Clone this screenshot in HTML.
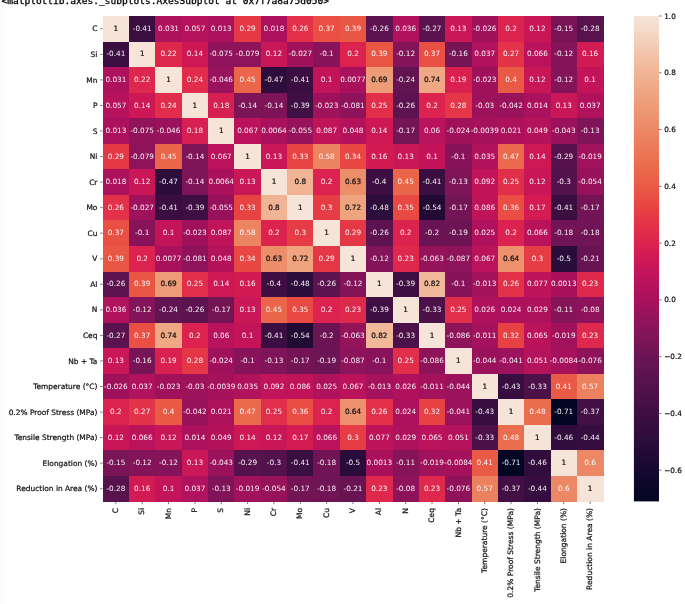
<!DOCTYPE html>
<html lang="en"><head><meta charset="utf-8"><title>Correlation heatmap</title>
<style>
html,body{margin:0;padding:0;background:#fff;}
body{width:685px;height:604px;overflow:hidden;position:relative;}
svg{position:absolute;left:0;top:0;display:block;filter:blur(0.4px);}
text{font-family:"DejaVu Sans","Liberation Sans",sans-serif;}
.a{font-size:7.3px;text-anchor:middle;}
.w{fill:#fff;fill-opacity:0.94;}.k{fill:#111;stroke:#111;stroke-width:0.22px;}
.yl{font-size:7.45px;text-anchor:end;fill:#111;stroke:#111;stroke-width:0.22px;}
.xl{font-size:7.52px;text-anchor:end;fill:#111;stroke:#111;stroke-width:0.22px;}
.cl{font-size:7.3px;text-anchor:start;fill:#111;stroke:#111;stroke-width:0.22px;}
.t{stroke:#262626;stroke-width:0.6;}
.out{font-family:"DejaVu Sans Mono","Liberation Mono",monospace;font-size:9.555px;fill:#000;stroke:#000;stroke-width:0.3px;}
</style></head><body>
<svg width="685" height="604" viewBox="0 0 685 604">
<rect x="0" y="0" width="685" height="604" fill="#fff"/>
<rect x="0" y="0" width="2.8" height="604" fill="#fcfcfc"/>
<rect x="2.2" y="0" width="0.7" height="604" fill="#f8f8f8"/>
<text class="out" x="1.4" y="4.45">&lt;matplotlib.axes._subplots.AxesSubplot at 0x7f7a8a75d050&gt;</text>
<g shape-rendering="crispEdges">
<rect x="102.70" y="16.00" width="26.65" height="25.85" fill="#f5e4d7"/>
<rect x="129.05" y="16.00" width="26.65" height="25.85" fill="#3b0e41"/>
<rect x="155.39" y="16.00" width="26.65" height="25.85" fill="#af125d"/>
<rect x="181.74" y="16.00" width="26.65" height="25.85" fill="#b6135c"/>
<rect x="208.09" y="16.00" width="26.65" height="25.85" fill="#ab115c"/>
<rect x="234.44" y="16.00" width="26.65" height="25.85" fill="#e53846"/>
<rect x="260.78" y="16.00" width="26.65" height="25.85" fill="#ac115d"/>
<rect x="287.13" y="16.00" width="26.65" height="25.85" fill="#e33149"/>
<rect x="313.48" y="16.00" width="26.65" height="25.85" fill="#e95043"/>
<rect x="339.83" y="16.00" width="26.65" height="25.85" fill="#e95644"/>
<rect x="366.17" y="16.00" width="26.65" height="25.85" fill="#5d134f"/>
<rect x="392.52" y="16.00" width="26.65" height="25.85" fill="#b1125d"/>
<rect x="418.87" y="16.00" width="26.65" height="25.85" fill="#5a134e"/>
<rect x="445.22" y="16.00" width="26.65" height="25.85" fill="#ca1757"/>
<rect x="471.56" y="16.00" width="26.65" height="25.85" fill="#a0115c"/>
<rect x="497.91" y="16.00" width="26.65" height="25.85" fill="#dc234f"/>
<rect x="524.26" y="16.00" width="26.65" height="25.85" fill="#c81657"/>
<rect x="550.61" y="16.00" width="26.65" height="25.85" fill="#791457"/>
<rect x="576.95" y="16.00" width="26.65" height="25.85" fill="#58134e"/>
<rect x="102.70" y="41.55" width="26.65" height="25.85" fill="#3b0e41"/>
<rect x="129.05" y="41.55" width="26.65" height="25.85" fill="#f5e4d7"/>
<rect x="155.39" y="41.55" width="26.65" height="25.85" fill="#de274d"/>
<rect x="181.74" y="41.55" width="26.65" height="25.85" fill="#ce1855"/>
<rect x="208.09" y="41.55" width="26.65" height="25.85" fill="#91135b"/>
<rect x="234.44" y="41.55" width="26.65" height="25.85" fill="#8f135b"/>
<rect x="260.78" y="41.55" width="26.65" height="25.85" fill="#c81657"/>
<rect x="287.13" y="41.55" width="26.65" height="25.85" fill="#a0115c"/>
<rect x="313.48" y="41.55" width="26.65" height="25.85" fill="#89135a"/>
<rect x="339.83" y="41.55" width="26.65" height="25.85" fill="#dc234f"/>
<rect x="366.17" y="41.55" width="26.65" height="25.85" fill="#e95644"/>
<rect x="392.52" y="41.55" width="26.65" height="25.85" fill="#831459"/>
<rect x="418.87" y="41.55" width="26.65" height="25.85" fill="#e95043"/>
<rect x="445.22" y="41.55" width="26.65" height="25.85" fill="#771456"/>
<rect x="471.56" y="41.55" width="26.65" height="25.85" fill="#b1125d"/>
<rect x="497.91" y="41.55" width="26.65" height="25.85" fill="#e33348"/>
<rect x="524.26" y="41.55" width="26.65" height="25.85" fill="#ba135c"/>
<rect x="550.61" y="41.55" width="26.65" height="25.85" fill="#831459"/>
<rect x="576.95" y="41.55" width="26.65" height="25.85" fill="#d31b53"/>
<rect x="102.70" y="67.11" width="26.65" height="25.85" fill="#af125d"/>
<rect x="129.05" y="67.11" width="26.65" height="25.85" fill="#de274d"/>
<rect x="155.39" y="67.11" width="26.65" height="25.85" fill="#f5e4d7"/>
<rect x="181.74" y="67.11" width="26.65" height="25.85" fill="#e12c4b"/>
<rect x="208.09" y="67.11" width="26.65" height="25.85" fill="#9a125c"/>
<rect x="234.44" y="67.11" width="26.65" height="25.85" fill="#eb654a"/>
<rect x="260.78" y="67.11" width="26.65" height="25.85" fill="#2e0d3c"/>
<rect x="287.13" y="67.11" width="26.65" height="25.85" fill="#3b0e41"/>
<rect x="313.48" y="67.11" width="26.65" height="25.85" fill="#c31459"/>
<rect x="339.83" y="67.11" width="26.65" height="25.85" fill="#aa115c"/>
<rect x="366.17" y="67.11" width="26.65" height="25.85" fill="#ee9b77"/>
<rect x="392.52" y="67.11" width="26.65" height="25.85" fill="#621351"/>
<rect x="418.87" y="67.11" width="26.65" height="25.85" fill="#efa784"/>
<rect x="445.22" y="67.11" width="26.65" height="25.85" fill="#d92051"/>
<rect x="471.56" y="67.11" width="26.65" height="25.85" fill="#a0115c"/>
<rect x="497.91" y="67.11" width="26.65" height="25.85" fill="#e95a45"/>
<rect x="524.26" y="67.11" width="26.65" height="25.85" fill="#c81657"/>
<rect x="550.61" y="67.11" width="26.65" height="25.85" fill="#831459"/>
<rect x="576.95" y="67.11" width="26.65" height="25.85" fill="#c31459"/>
<rect x="102.70" y="92.66" width="26.65" height="25.85" fill="#b6135c"/>
<rect x="129.05" y="92.66" width="26.65" height="25.85" fill="#ce1855"/>
<rect x="155.39" y="92.66" width="26.65" height="25.85" fill="#e12c4b"/>
<rect x="181.74" y="92.66" width="26.65" height="25.85" fill="#f5e4d7"/>
<rect x="208.09" y="92.66" width="26.65" height="25.85" fill="#d71f51"/>
<rect x="234.44" y="92.66" width="26.65" height="25.85" fill="#7d1458"/>
<rect x="260.78" y="92.66" width="26.65" height="25.85" fill="#7d1458"/>
<rect x="287.13" y="92.66" width="26.65" height="25.85" fill="#3f0e43"/>
<rect x="313.48" y="92.66" width="26.65" height="25.85" fill="#a0115c"/>
<rect x="339.83" y="92.66" width="26.65" height="25.85" fill="#8f135b"/>
<rect x="366.17" y="92.66" width="26.65" height="25.85" fill="#e12e4a"/>
<rect x="392.52" y="92.66" width="26.65" height="25.85" fill="#5d134f"/>
<rect x="418.87" y="92.66" width="26.65" height="25.85" fill="#dc234f"/>
<rect x="445.22" y="92.66" width="26.65" height="25.85" fill="#e43647"/>
<rect x="471.56" y="92.66" width="26.65" height="25.85" fill="#9e125c"/>
<rect x="497.91" y="92.66" width="26.65" height="25.85" fill="#9b125c"/>
<rect x="524.26" y="92.66" width="26.65" height="25.85" fill="#ab115c"/>
<rect x="550.61" y="92.66" width="26.65" height="25.85" fill="#ca1757"/>
<rect x="576.95" y="92.66" width="26.65" height="25.85" fill="#b1125d"/>
<rect x="102.70" y="118.21" width="26.65" height="25.85" fill="#ab115c"/>
<rect x="129.05" y="118.21" width="26.65" height="25.85" fill="#91135b"/>
<rect x="155.39" y="118.21" width="26.65" height="25.85" fill="#9a125c"/>
<rect x="181.74" y="118.21" width="26.65" height="25.85" fill="#d71f51"/>
<rect x="208.09" y="118.21" width="26.65" height="25.85" fill="#f5e4d7"/>
<rect x="234.44" y="118.21" width="26.65" height="25.85" fill="#ba135c"/>
<rect x="260.78" y="118.21" width="26.65" height="25.85" fill="#aa115c"/>
<rect x="287.13" y="118.21" width="26.65" height="25.85" fill="#97125b"/>
<rect x="313.48" y="118.21" width="26.65" height="25.85" fill="#bf145a"/>
<rect x="339.83" y="118.21" width="26.65" height="25.85" fill="#b4135c"/>
<rect x="366.17" y="118.21" width="26.65" height="25.85" fill="#ce1855"/>
<rect x="392.52" y="118.21" width="26.65" height="25.85" fill="#731455"/>
<rect x="418.87" y="118.21" width="26.65" height="25.85" fill="#b8135c"/>
<rect x="445.22" y="118.21" width="26.65" height="25.85" fill="#a0115c"/>
<rect x="471.56" y="118.21" width="26.65" height="25.85" fill="#a6115c"/>
<rect x="497.91" y="118.21" width="26.65" height="25.85" fill="#ad115c"/>
<rect x="524.26" y="118.21" width="26.65" height="25.85" fill="#b4135c"/>
<rect x="550.61" y="118.21" width="26.65" height="25.85" fill="#9a125c"/>
<rect x="576.95" y="118.21" width="26.65" height="25.85" fill="#7f1458"/>
<rect x="102.70" y="143.76" width="26.65" height="25.85" fill="#e53846"/>
<rect x="129.05" y="143.76" width="26.65" height="25.85" fill="#8f135b"/>
<rect x="155.39" y="143.76" width="26.65" height="25.85" fill="#eb654a"/>
<rect x="181.74" y="143.76" width="26.65" height="25.85" fill="#7d1458"/>
<rect x="208.09" y="143.76" width="26.65" height="25.85" fill="#ba135c"/>
<rect x="234.44" y="143.76" width="26.65" height="25.85" fill="#f5e4d7"/>
<rect x="260.78" y="143.76" width="26.65" height="25.85" fill="#ca1757"/>
<rect x="287.13" y="143.76" width="26.65" height="25.85" fill="#e74343"/>
<rect x="313.48" y="143.76" width="26.65" height="25.85" fill="#ec8462"/>
<rect x="339.83" y="143.76" width="26.65" height="25.85" fill="#e84743"/>
<rect x="366.17" y="143.76" width="26.65" height="25.85" fill="#d31b53"/>
<rect x="392.52" y="143.76" width="26.65" height="25.85" fill="#ca1757"/>
<rect x="418.87" y="143.76" width="26.65" height="25.85" fill="#c31459"/>
<rect x="445.22" y="143.76" width="26.65" height="25.85" fill="#89135a"/>
<rect x="471.56" y="143.76" width="26.65" height="25.85" fill="#b1125c"/>
<rect x="497.91" y="143.76" width="26.65" height="25.85" fill="#eb6a4d"/>
<rect x="524.26" y="143.76" width="26.65" height="25.85" fill="#ce1855"/>
<rect x="550.61" y="143.76" width="26.65" height="25.85" fill="#55124d"/>
<rect x="576.95" y="143.76" width="26.65" height="25.85" fill="#a2115c"/>
<rect x="102.70" y="169.32" width="26.65" height="25.85" fill="#ac115d"/>
<rect x="129.05" y="169.32" width="26.65" height="25.85" fill="#c81657"/>
<rect x="155.39" y="169.32" width="26.65" height="25.85" fill="#2e0d3c"/>
<rect x="181.74" y="169.32" width="26.65" height="25.85" fill="#7d1458"/>
<rect x="208.09" y="169.32" width="26.65" height="25.85" fill="#aa115c"/>
<rect x="234.44" y="169.32" width="26.65" height="25.85" fill="#ca1757"/>
<rect x="260.78" y="169.32" width="26.65" height="25.85" fill="#f5e4d7"/>
<rect x="287.13" y="169.32" width="26.65" height="25.85" fill="#f0b393"/>
<rect x="313.48" y="169.32" width="26.65" height="25.85" fill="#dc234f"/>
<rect x="339.83" y="169.32" width="26.65" height="25.85" fill="#ed8e6b"/>
<rect x="366.17" y="169.32" width="26.65" height="25.85" fill="#3e0e42"/>
<rect x="392.52" y="169.32" width="26.65" height="25.85" fill="#eb654a"/>
<rect x="418.87" y="169.32" width="26.65" height="25.85" fill="#3b0e41"/>
<rect x="445.22" y="169.32" width="26.65" height="25.85" fill="#7f1458"/>
<rect x="471.56" y="169.32" width="26.65" height="25.85" fill="#c1145a"/>
<rect x="497.91" y="169.32" width="26.65" height="25.85" fill="#e12e4a"/>
<rect x="524.26" y="169.32" width="26.65" height="25.85" fill="#c81657"/>
<rect x="550.61" y="169.32" width="26.65" height="25.85" fill="#54124c"/>
<rect x="576.95" y="169.32" width="26.65" height="25.85" fill="#97125b"/>
<rect x="102.70" y="194.87" width="26.65" height="25.85" fill="#e33149"/>
<rect x="129.05" y="194.87" width="26.65" height="25.85" fill="#a0115c"/>
<rect x="155.39" y="194.87" width="26.65" height="25.85" fill="#3b0e41"/>
<rect x="181.74" y="194.87" width="26.65" height="25.85" fill="#3f0e43"/>
<rect x="208.09" y="194.87" width="26.65" height="25.85" fill="#97125b"/>
<rect x="234.44" y="194.87" width="26.65" height="25.85" fill="#e74343"/>
<rect x="260.78" y="194.87" width="26.65" height="25.85" fill="#f0b393"/>
<rect x="287.13" y="194.87" width="26.65" height="25.85" fill="#f5e4d7"/>
<rect x="313.48" y="194.87" width="26.65" height="25.85" fill="#e63c45"/>
<rect x="339.83" y="194.87" width="26.65" height="25.85" fill="#efa37f"/>
<rect x="366.17" y="194.87" width="26.65" height="25.85" fill="#2d0d3b"/>
<rect x="392.52" y="194.87" width="26.65" height="25.85" fill="#e84943"/>
<rect x="418.87" y="194.87" width="26.65" height="25.85" fill="#210b35"/>
<rect x="445.22" y="194.87" width="26.65" height="25.85" fill="#731455"/>
<rect x="471.56" y="194.87" width="26.65" height="25.85" fill="#bf145a"/>
<rect x="497.91" y="194.87" width="26.65" height="25.85" fill="#e94d43"/>
<rect x="524.26" y="194.87" width="26.65" height="25.85" fill="#d41c53"/>
<rect x="550.61" y="194.87" width="26.65" height="25.85" fill="#3b0e41"/>
<rect x="576.95" y="194.87" width="26.65" height="25.85" fill="#731455"/>
<rect x="102.70" y="220.42" width="26.65" height="25.85" fill="#e95043"/>
<rect x="129.05" y="220.42" width="26.65" height="25.85" fill="#89135a"/>
<rect x="155.39" y="220.42" width="26.65" height="25.85" fill="#c31459"/>
<rect x="181.74" y="220.42" width="26.65" height="25.85" fill="#a0115c"/>
<rect x="208.09" y="220.42" width="26.65" height="25.85" fill="#bf145a"/>
<rect x="234.44" y="220.42" width="26.65" height="25.85" fill="#ec8462"/>
<rect x="260.78" y="220.42" width="26.65" height="25.85" fill="#dc234f"/>
<rect x="287.13" y="220.42" width="26.65" height="25.85" fill="#e63c45"/>
<rect x="313.48" y="220.42" width="26.65" height="25.85" fill="#f5e4d7"/>
<rect x="339.83" y="220.42" width="26.65" height="25.85" fill="#e53846"/>
<rect x="366.17" y="220.42" width="26.65" height="25.85" fill="#5d134f"/>
<rect x="392.52" y="220.42" width="26.65" height="25.85" fill="#dc234f"/>
<rect x="418.87" y="220.42" width="26.65" height="25.85" fill="#6b1453"/>
<rect x="445.22" y="220.42" width="26.65" height="25.85" fill="#6d1454"/>
<rect x="471.56" y="220.42" width="26.65" height="25.85" fill="#af115c"/>
<rect x="497.91" y="220.42" width="26.65" height="25.85" fill="#dc234f"/>
<rect x="524.26" y="220.42" width="26.65" height="25.85" fill="#ba135c"/>
<rect x="550.61" y="220.42" width="26.65" height="25.85" fill="#711455"/>
<rect x="576.95" y="220.42" width="26.65" height="25.85" fill="#711455"/>
<rect x="102.70" y="245.97" width="26.65" height="25.85" fill="#e95644"/>
<rect x="129.05" y="245.97" width="26.65" height="25.85" fill="#dc234f"/>
<rect x="155.39" y="245.97" width="26.65" height="25.85" fill="#aa115c"/>
<rect x="181.74" y="245.97" width="26.65" height="25.85" fill="#8f135b"/>
<rect x="208.09" y="245.97" width="26.65" height="25.85" fill="#b4135c"/>
<rect x="234.44" y="245.97" width="26.65" height="25.85" fill="#e84743"/>
<rect x="260.78" y="245.97" width="26.65" height="25.85" fill="#ed8e6b"/>
<rect x="287.13" y="245.97" width="26.65" height="25.85" fill="#efa37f"/>
<rect x="313.48" y="245.97" width="26.65" height="25.85" fill="#e53846"/>
<rect x="339.83" y="245.97" width="26.65" height="25.85" fill="#f5e4d7"/>
<rect x="366.17" y="245.97" width="26.65" height="25.85" fill="#831459"/>
<rect x="392.52" y="245.97" width="26.65" height="25.85" fill="#df294c"/>
<rect x="418.87" y="245.97" width="26.65" height="25.85" fill="#94135b"/>
<rect x="445.22" y="245.97" width="26.65" height="25.85" fill="#8d135a"/>
<rect x="471.56" y="245.97" width="26.65" height="25.85" fill="#ba135c"/>
<rect x="497.91" y="245.97" width="26.65" height="25.85" fill="#ed916e"/>
<rect x="524.26" y="245.97" width="26.65" height="25.85" fill="#e63c45"/>
<rect x="550.61" y="245.97" width="26.65" height="25.85" fill="#290c39"/>
<rect x="576.95" y="245.97" width="26.65" height="25.85" fill="#681452"/>
<rect x="102.70" y="271.53" width="26.65" height="25.85" fill="#5d134f"/>
<rect x="129.05" y="271.53" width="26.65" height="25.85" fill="#e95644"/>
<rect x="155.39" y="271.53" width="26.65" height="25.85" fill="#ee9b77"/>
<rect x="181.74" y="271.53" width="26.65" height="25.85" fill="#e12e4a"/>
<rect x="208.09" y="271.53" width="26.65" height="25.85" fill="#ce1855"/>
<rect x="234.44" y="271.53" width="26.65" height="25.85" fill="#d31b53"/>
<rect x="260.78" y="271.53" width="26.65" height="25.85" fill="#3e0e42"/>
<rect x="287.13" y="271.53" width="26.65" height="25.85" fill="#2d0d3b"/>
<rect x="313.48" y="271.53" width="26.65" height="25.85" fill="#5d134f"/>
<rect x="339.83" y="271.53" width="26.65" height="25.85" fill="#831459"/>
<rect x="366.17" y="271.53" width="26.65" height="25.85" fill="#f5e4d7"/>
<rect x="392.52" y="271.53" width="26.65" height="25.85" fill="#3f0e43"/>
<rect x="418.87" y="271.53" width="26.65" height="25.85" fill="#f1b99a"/>
<rect x="445.22" y="271.53" width="26.65" height="25.85" fill="#89135a"/>
<rect x="471.56" y="271.53" width="26.65" height="25.85" fill="#a4115c"/>
<rect x="497.91" y="271.53" width="26.65" height="25.85" fill="#e33149"/>
<rect x="524.26" y="271.53" width="26.65" height="25.85" fill="#bc135b"/>
<rect x="550.61" y="271.53" width="26.65" height="25.85" fill="#a8105c"/>
<rect x="576.95" y="271.53" width="26.65" height="25.85" fill="#df294c"/>
<rect x="102.70" y="297.08" width="26.65" height="25.85" fill="#b1125d"/>
<rect x="129.05" y="297.08" width="26.65" height="25.85" fill="#831459"/>
<rect x="155.39" y="297.08" width="26.65" height="25.85" fill="#621351"/>
<rect x="181.74" y="297.08" width="26.65" height="25.85" fill="#5d134f"/>
<rect x="208.09" y="297.08" width="26.65" height="25.85" fill="#731455"/>
<rect x="234.44" y="297.08" width="26.65" height="25.85" fill="#ca1757"/>
<rect x="260.78" y="297.08" width="26.65" height="25.85" fill="#eb654a"/>
<rect x="287.13" y="297.08" width="26.65" height="25.85" fill="#e84943"/>
<rect x="313.48" y="297.08" width="26.65" height="25.85" fill="#dc234f"/>
<rect x="339.83" y="297.08" width="26.65" height="25.85" fill="#df294c"/>
<rect x="366.17" y="297.08" width="26.65" height="25.85" fill="#3f0e43"/>
<rect x="392.52" y="297.08" width="26.65" height="25.85" fill="#f5e4d7"/>
<rect x="418.87" y="297.08" width="26.65" height="25.85" fill="#4c1149"/>
<rect x="445.22" y="297.08" width="26.65" height="25.85" fill="#e12e4a"/>
<rect x="471.56" y="297.08" width="26.65" height="25.85" fill="#af115c"/>
<rect x="497.91" y="297.08" width="26.65" height="25.85" fill="#ad115d"/>
<rect x="524.26" y="297.08" width="26.65" height="25.85" fill="#af125d"/>
<rect x="550.61" y="297.08" width="26.65" height="25.85" fill="#851459"/>
<rect x="576.95" y="297.08" width="26.65" height="25.85" fill="#8f135b"/>
<rect x="102.70" y="322.63" width="26.65" height="25.85" fill="#5a134e"/>
<rect x="129.05" y="322.63" width="26.65" height="25.85" fill="#e95043"/>
<rect x="155.39" y="322.63" width="26.65" height="25.85" fill="#efa784"/>
<rect x="181.74" y="322.63" width="26.65" height="25.85" fill="#dc234f"/>
<rect x="208.09" y="322.63" width="26.65" height="25.85" fill="#b8135c"/>
<rect x="234.44" y="322.63" width="26.65" height="25.85" fill="#c31459"/>
<rect x="260.78" y="322.63" width="26.65" height="25.85" fill="#3b0e41"/>
<rect x="287.13" y="322.63" width="26.65" height="25.85" fill="#210b35"/>
<rect x="313.48" y="322.63" width="26.65" height="25.85" fill="#6b1453"/>
<rect x="339.83" y="322.63" width="26.65" height="25.85" fill="#94135b"/>
<rect x="366.17" y="322.63" width="26.65" height="25.85" fill="#f1b99a"/>
<rect x="392.52" y="322.63" width="26.65" height="25.85" fill="#4c1149"/>
<rect x="418.87" y="322.63" width="26.65" height="25.85" fill="#f5e4d7"/>
<rect x="445.22" y="322.63" width="26.65" height="25.85" fill="#8d135a"/>
<rect x="471.56" y="322.63" width="26.65" height="25.85" fill="#a4115c"/>
<rect x="497.91" y="322.63" width="26.65" height="25.85" fill="#e74144"/>
<rect x="524.26" y="322.63" width="26.65" height="25.85" fill="#ba135c"/>
<rect x="550.61" y="322.63" width="26.65" height="25.85" fill="#a2115c"/>
<rect x="576.95" y="322.63" width="26.65" height="25.85" fill="#df294c"/>
<rect x="102.70" y="348.18" width="26.65" height="25.85" fill="#ca1757"/>
<rect x="129.05" y="348.18" width="26.65" height="25.85" fill="#771456"/>
<rect x="155.39" y="348.18" width="26.65" height="25.85" fill="#d92051"/>
<rect x="181.74" y="348.18" width="26.65" height="25.85" fill="#e43647"/>
<rect x="208.09" y="348.18" width="26.65" height="25.85" fill="#a0115c"/>
<rect x="234.44" y="348.18" width="26.65" height="25.85" fill="#89135a"/>
<rect x="260.78" y="348.18" width="26.65" height="25.85" fill="#7f1458"/>
<rect x="287.13" y="348.18" width="26.65" height="25.85" fill="#731455"/>
<rect x="313.48" y="348.18" width="26.65" height="25.85" fill="#6d1454"/>
<rect x="339.83" y="348.18" width="26.65" height="25.85" fill="#8d135a"/>
<rect x="366.17" y="348.18" width="26.65" height="25.85" fill="#89135a"/>
<rect x="392.52" y="348.18" width="26.65" height="25.85" fill="#e12e4a"/>
<rect x="418.87" y="348.18" width="26.65" height="25.85" fill="#8d135a"/>
<rect x="445.22" y="348.18" width="26.65" height="25.85" fill="#f5e4d7"/>
<rect x="471.56" y="348.18" width="26.65" height="25.85" fill="#9a125c"/>
<rect x="497.91" y="348.18" width="26.65" height="25.85" fill="#9c125c"/>
<rect x="524.26" y="348.18" width="26.65" height="25.85" fill="#b5135c"/>
<rect x="550.61" y="348.18" width="26.65" height="25.85" fill="#a6115c"/>
<rect x="576.95" y="348.18" width="26.65" height="25.85" fill="#8f135b"/>
<rect x="102.70" y="373.74" width="26.65" height="25.85" fill="#a0115c"/>
<rect x="129.05" y="373.74" width="26.65" height="25.85" fill="#b1125d"/>
<rect x="155.39" y="373.74" width="26.65" height="25.85" fill="#a0115c"/>
<rect x="181.74" y="373.74" width="26.65" height="25.85" fill="#9e125c"/>
<rect x="208.09" y="373.74" width="26.65" height="25.85" fill="#a6115c"/>
<rect x="234.44" y="373.74" width="26.65" height="25.85" fill="#b1125c"/>
<rect x="260.78" y="373.74" width="26.65" height="25.85" fill="#c1145a"/>
<rect x="287.13" y="373.74" width="26.65" height="25.85" fill="#bf145a"/>
<rect x="313.48" y="373.74" width="26.65" height="25.85" fill="#af115c"/>
<rect x="339.83" y="373.74" width="26.65" height="25.85" fill="#ba135c"/>
<rect x="366.17" y="373.74" width="26.65" height="25.85" fill="#a4115c"/>
<rect x="392.52" y="373.74" width="26.65" height="25.85" fill="#af115c"/>
<rect x="418.87" y="373.74" width="26.65" height="25.85" fill="#a4115c"/>
<rect x="445.22" y="373.74" width="26.65" height="25.85" fill="#9a125c"/>
<rect x="471.56" y="373.74" width="26.65" height="25.85" fill="#f5e4d7"/>
<rect x="497.91" y="373.74" width="26.65" height="25.85" fill="#370e3f"/>
<rect x="524.26" y="373.74" width="26.65" height="25.85" fill="#4c1149"/>
<rect x="550.61" y="373.74" width="26.65" height="25.85" fill="#e95b46"/>
<rect x="576.95" y="373.74" width="26.65" height="25.85" fill="#ec815f"/>
<rect x="102.70" y="399.29" width="26.65" height="25.85" fill="#dc234f"/>
<rect x="129.05" y="399.29" width="26.65" height="25.85" fill="#e33348"/>
<rect x="155.39" y="399.29" width="26.65" height="25.85" fill="#e95a45"/>
<rect x="181.74" y="399.29" width="26.65" height="25.85" fill="#9b125c"/>
<rect x="208.09" y="399.29" width="26.65" height="25.85" fill="#ad115c"/>
<rect x="234.44" y="399.29" width="26.65" height="25.85" fill="#eb6a4d"/>
<rect x="260.78" y="399.29" width="26.65" height="25.85" fill="#e12e4a"/>
<rect x="287.13" y="399.29" width="26.65" height="25.85" fill="#e94d43"/>
<rect x="313.48" y="399.29" width="26.65" height="25.85" fill="#dc234f"/>
<rect x="339.83" y="399.29" width="26.65" height="25.85" fill="#ed916e"/>
<rect x="366.17" y="399.29" width="26.65" height="25.85" fill="#e33149"/>
<rect x="392.52" y="399.29" width="26.65" height="25.85" fill="#ad115d"/>
<rect x="418.87" y="399.29" width="26.65" height="25.85" fill="#e74144"/>
<rect x="445.22" y="399.29" width="26.65" height="25.85" fill="#9c125c"/>
<rect x="471.56" y="399.29" width="26.65" height="25.85" fill="#370e3f"/>
<rect x="497.91" y="399.29" width="26.65" height="25.85" fill="#f5e4d7"/>
<rect x="524.26" y="399.29" width="26.65" height="25.85" fill="#eb6d4f"/>
<rect x="550.61" y="399.29" width="26.65" height="25.85" fill="#030623"/>
<rect x="576.95" y="399.29" width="26.65" height="25.85" fill="#430f45"/>
<rect x="102.70" y="424.84" width="26.65" height="25.85" fill="#c81657"/>
<rect x="129.05" y="424.84" width="26.65" height="25.85" fill="#ba135c"/>
<rect x="155.39" y="424.84" width="26.65" height="25.85" fill="#c81657"/>
<rect x="181.74" y="424.84" width="26.65" height="25.85" fill="#ab115c"/>
<rect x="208.09" y="424.84" width="26.65" height="25.85" fill="#b4135c"/>
<rect x="234.44" y="424.84" width="26.65" height="25.85" fill="#ce1855"/>
<rect x="260.78" y="424.84" width="26.65" height="25.85" fill="#c81657"/>
<rect x="287.13" y="424.84" width="26.65" height="25.85" fill="#d41c53"/>
<rect x="313.48" y="424.84" width="26.65" height="25.85" fill="#ba135c"/>
<rect x="339.83" y="424.84" width="26.65" height="25.85" fill="#e63c45"/>
<rect x="366.17" y="424.84" width="26.65" height="25.85" fill="#bc135b"/>
<rect x="392.52" y="424.84" width="26.65" height="25.85" fill="#af125d"/>
<rect x="418.87" y="424.84" width="26.65" height="25.85" fill="#ba135c"/>
<rect x="445.22" y="424.84" width="26.65" height="25.85" fill="#b5135c"/>
<rect x="471.56" y="424.84" width="26.65" height="25.85" fill="#4c1149"/>
<rect x="497.91" y="424.84" width="26.65" height="25.85" fill="#eb6d4f"/>
<rect x="524.26" y="424.84" width="26.65" height="25.85" fill="#f5e4d7"/>
<rect x="550.61" y="424.84" width="26.65" height="25.85" fill="#310d3d"/>
<rect x="576.95" y="424.84" width="26.65" height="25.85" fill="#350e3f"/>
<rect x="102.70" y="450.39" width="26.65" height="25.85" fill="#791457"/>
<rect x="129.05" y="450.39" width="26.65" height="25.85" fill="#831459"/>
<rect x="155.39" y="450.39" width="26.65" height="25.85" fill="#831459"/>
<rect x="181.74" y="450.39" width="26.65" height="25.85" fill="#ca1757"/>
<rect x="208.09" y="450.39" width="26.65" height="25.85" fill="#9a125c"/>
<rect x="234.44" y="450.39" width="26.65" height="25.85" fill="#55124d"/>
<rect x="260.78" y="450.39" width="26.65" height="25.85" fill="#54124c"/>
<rect x="287.13" y="450.39" width="26.65" height="25.85" fill="#3b0e41"/>
<rect x="313.48" y="450.39" width="26.65" height="25.85" fill="#711455"/>
<rect x="339.83" y="450.39" width="26.65" height="25.85" fill="#290c39"/>
<rect x="366.17" y="450.39" width="26.65" height="25.85" fill="#a8105c"/>
<rect x="392.52" y="450.39" width="26.65" height="25.85" fill="#851459"/>
<rect x="418.87" y="450.39" width="26.65" height="25.85" fill="#a2115c"/>
<rect x="445.22" y="450.39" width="26.65" height="25.85" fill="#a6115c"/>
<rect x="471.56" y="450.39" width="26.65" height="25.85" fill="#e95b46"/>
<rect x="497.91" y="450.39" width="26.65" height="25.85" fill="#030623"/>
<rect x="524.26" y="450.39" width="26.65" height="25.85" fill="#310d3d"/>
<rect x="550.61" y="450.39" width="26.65" height="25.85" fill="#f5e4d7"/>
<rect x="576.95" y="450.39" width="26.65" height="25.85" fill="#ec8866"/>
<rect x="102.70" y="475.95" width="26.65" height="25.85" fill="#58134e"/>
<rect x="129.05" y="475.95" width="26.65" height="25.85" fill="#d31b53"/>
<rect x="155.39" y="475.95" width="26.65" height="25.85" fill="#c31459"/>
<rect x="181.74" y="475.95" width="26.65" height="25.85" fill="#b1125d"/>
<rect x="208.09" y="475.95" width="26.65" height="25.85" fill="#7f1458"/>
<rect x="234.44" y="475.95" width="26.65" height="25.85" fill="#a2115c"/>
<rect x="260.78" y="475.95" width="26.65" height="25.85" fill="#97125b"/>
<rect x="287.13" y="475.95" width="26.65" height="25.85" fill="#731455"/>
<rect x="313.48" y="475.95" width="26.65" height="25.85" fill="#711455"/>
<rect x="339.83" y="475.95" width="26.65" height="25.85" fill="#681452"/>
<rect x="366.17" y="475.95" width="26.65" height="25.85" fill="#df294c"/>
<rect x="392.52" y="475.95" width="26.65" height="25.85" fill="#8f135b"/>
<rect x="418.87" y="475.95" width="26.65" height="25.85" fill="#df294c"/>
<rect x="445.22" y="475.95" width="26.65" height="25.85" fill="#8f135b"/>
<rect x="471.56" y="475.95" width="26.65" height="25.85" fill="#ec815f"/>
<rect x="497.91" y="475.95" width="26.65" height="25.85" fill="#430f45"/>
<rect x="524.26" y="475.95" width="26.65" height="25.85" fill="#350e3f"/>
<rect x="550.61" y="475.95" width="26.65" height="25.85" fill="#ec8866"/>
<rect x="576.95" y="475.95" width="26.65" height="25.85" fill="#f5e4d7"/>
</g>
<text class="a k" x="115.87" y="30.90">1</text>
<text class="a w" x="142.22" y="30.90">-0.41</text>
<text class="a w" x="168.57" y="30.90">0.031</text>
<text class="a w" x="194.92" y="30.90">0.057</text>
<text class="a w" x="221.26" y="30.90">0.013</text>
<text class="a w" x="247.61" y="30.90">0.29</text>
<text class="a w" x="273.96" y="30.90">0.018</text>
<text class="a w" x="300.31" y="30.90">0.26</text>
<text class="a w" x="326.65" y="30.90">0.37</text>
<text class="a w" x="353.00" y="30.90">0.39</text>
<text class="a w" x="379.35" y="30.90">-0.26</text>
<text class="a w" x="405.69" y="30.90">0.036</text>
<text class="a w" x="432.04" y="30.90">-0.27</text>
<text class="a w" x="458.39" y="30.90">0.13</text>
<text class="a w" x="484.74" y="30.90">-0.026</text>
<text class="a w" x="511.08" y="30.90">0.2</text>
<text class="a w" x="537.43" y="30.90">0.12</text>
<text class="a w" x="563.78" y="30.90">-0.15</text>
<text class="a w" x="590.13" y="30.90">-0.28</text>
<text class="a w" x="115.87" y="56.46">-0.41</text>
<text class="a k" x="142.22" y="56.46">1</text>
<text class="a w" x="168.57" y="56.46">0.22</text>
<text class="a w" x="194.92" y="56.46">0.14</text>
<text class="a w" x="221.26" y="56.46">-0.075</text>
<text class="a w" x="247.61" y="56.46">-0.079</text>
<text class="a w" x="273.96" y="56.46">0.12</text>
<text class="a w" x="300.31" y="56.46">-0.027</text>
<text class="a w" x="326.65" y="56.46">-0.1</text>
<text class="a w" x="353.00" y="56.46">0.2</text>
<text class="a w" x="379.35" y="56.46">0.39</text>
<text class="a w" x="405.69" y="56.46">-0.12</text>
<text class="a w" x="432.04" y="56.46">0.37</text>
<text class="a w" x="458.39" y="56.46">-0.16</text>
<text class="a w" x="484.74" y="56.46">0.037</text>
<text class="a w" x="511.08" y="56.46">0.27</text>
<text class="a w" x="537.43" y="56.46">0.066</text>
<text class="a w" x="563.78" y="56.46">-0.12</text>
<text class="a w" x="590.13" y="56.46">0.16</text>
<text class="a w" x="115.87" y="82.01">0.031</text>
<text class="a w" x="142.22" y="82.01">0.22</text>
<text class="a k" x="168.57" y="82.01">1</text>
<text class="a w" x="194.92" y="82.01">0.24</text>
<text class="a w" x="221.26" y="82.01">-0.046</text>
<text class="a w" x="247.61" y="82.01">0.45</text>
<text class="a w" x="273.96" y="82.01">-0.47</text>
<text class="a w" x="300.31" y="82.01">-0.41</text>
<text class="a w" x="326.65" y="82.01">0.1</text>
<text class="a w" x="353.00" y="82.01">0.0077</text>
<text class="a k" x="379.35" y="82.01">0.69</text>
<text class="a w" x="405.69" y="82.01">-0.24</text>
<text class="a k" x="432.04" y="82.01">0.74</text>
<text class="a w" x="458.39" y="82.01">0.19</text>
<text class="a w" x="484.74" y="82.01">-0.023</text>
<text class="a w" x="511.08" y="82.01">0.4</text>
<text class="a w" x="537.43" y="82.01">0.12</text>
<text class="a w" x="563.78" y="82.01">-0.12</text>
<text class="a w" x="590.13" y="82.01">0.1</text>
<text class="a w" x="115.87" y="107.56">0.057</text>
<text class="a w" x="142.22" y="107.56">0.14</text>
<text class="a w" x="168.57" y="107.56">0.24</text>
<text class="a k" x="194.92" y="107.56">1</text>
<text class="a w" x="221.26" y="107.56">0.18</text>
<text class="a w" x="247.61" y="107.56">-0.14</text>
<text class="a w" x="273.96" y="107.56">-0.14</text>
<text class="a w" x="300.31" y="107.56">-0.39</text>
<text class="a w" x="326.65" y="107.56">-0.023</text>
<text class="a w" x="353.00" y="107.56">-0.081</text>
<text class="a w" x="379.35" y="107.56">0.25</text>
<text class="a w" x="405.69" y="107.56">-0.26</text>
<text class="a w" x="432.04" y="107.56">0.2</text>
<text class="a w" x="458.39" y="107.56">0.28</text>
<text class="a w" x="484.74" y="107.56">-0.03</text>
<text class="a w" x="511.08" y="107.56">-0.042</text>
<text class="a w" x="537.43" y="107.56">0.014</text>
<text class="a w" x="563.78" y="107.56">0.13</text>
<text class="a w" x="590.13" y="107.56">0.037</text>
<text class="a w" x="115.87" y="133.11">0.013</text>
<text class="a w" x="142.22" y="133.11">-0.075</text>
<text class="a w" x="168.57" y="133.11">-0.046</text>
<text class="a w" x="194.92" y="133.11">0.18</text>
<text class="a k" x="221.26" y="133.11">1</text>
<text class="a w" x="247.61" y="133.11">0.067</text>
<text class="a w" x="273.96" y="133.11">0.0064</text>
<text class="a w" x="300.31" y="133.11">-0.055</text>
<text class="a w" x="326.65" y="133.11">0.087</text>
<text class="a w" x="353.00" y="133.11">0.048</text>
<text class="a w" x="379.35" y="133.11">0.14</text>
<text class="a w" x="405.69" y="133.11">-0.17</text>
<text class="a w" x="432.04" y="133.11">0.06</text>
<text class="a w" x="458.39" y="133.11">-0.024</text>
<text class="a w" x="484.74" y="133.11">-0.0039</text>
<text class="a w" x="511.08" y="133.11">0.021</text>
<text class="a w" x="537.43" y="133.11">0.049</text>
<text class="a w" x="563.78" y="133.11">-0.043</text>
<text class="a w" x="590.13" y="133.11">-0.13</text>
<text class="a w" x="115.87" y="158.67">0.29</text>
<text class="a w" x="142.22" y="158.67">-0.079</text>
<text class="a w" x="168.57" y="158.67">0.45</text>
<text class="a w" x="194.92" y="158.67">-0.14</text>
<text class="a w" x="221.26" y="158.67">0.067</text>
<text class="a k" x="247.61" y="158.67">1</text>
<text class="a w" x="273.96" y="158.67">0.13</text>
<text class="a w" x="300.31" y="158.67">0.33</text>
<text class="a w" x="326.65" y="158.67">0.58</text>
<text class="a w" x="353.00" y="158.67">0.34</text>
<text class="a w" x="379.35" y="158.67">0.16</text>
<text class="a w" x="405.69" y="158.67">0.13</text>
<text class="a w" x="432.04" y="158.67">0.1</text>
<text class="a w" x="458.39" y="158.67">-0.1</text>
<text class="a w" x="484.74" y="158.67">0.035</text>
<text class="a w" x="511.08" y="158.67">0.47</text>
<text class="a w" x="537.43" y="158.67">0.14</text>
<text class="a w" x="563.78" y="158.67">-0.29</text>
<text class="a w" x="590.13" y="158.67">-0.019</text>
<text class="a w" x="115.87" y="184.22">0.018</text>
<text class="a w" x="142.22" y="184.22">0.12</text>
<text class="a w" x="168.57" y="184.22">-0.47</text>
<text class="a w" x="194.92" y="184.22">-0.14</text>
<text class="a w" x="221.26" y="184.22">0.0064</text>
<text class="a w" x="247.61" y="184.22">0.13</text>
<text class="a k" x="273.96" y="184.22">1</text>
<text class="a k" x="300.31" y="184.22">0.8</text>
<text class="a w" x="326.65" y="184.22">0.2</text>
<text class="a k" x="353.00" y="184.22">0.63</text>
<text class="a w" x="379.35" y="184.22">-0.4</text>
<text class="a w" x="405.69" y="184.22">0.45</text>
<text class="a w" x="432.04" y="184.22">-0.41</text>
<text class="a w" x="458.39" y="184.22">-0.13</text>
<text class="a w" x="484.74" y="184.22">0.092</text>
<text class="a w" x="511.08" y="184.22">0.25</text>
<text class="a w" x="537.43" y="184.22">0.12</text>
<text class="a w" x="563.78" y="184.22">-0.3</text>
<text class="a w" x="590.13" y="184.22">-0.054</text>
<text class="a w" x="115.87" y="209.77">0.26</text>
<text class="a w" x="142.22" y="209.77">-0.027</text>
<text class="a w" x="168.57" y="209.77">-0.41</text>
<text class="a w" x="194.92" y="209.77">-0.39</text>
<text class="a w" x="221.26" y="209.77">-0.055</text>
<text class="a w" x="247.61" y="209.77">0.33</text>
<text class="a k" x="273.96" y="209.77">0.8</text>
<text class="a k" x="300.31" y="209.77">1</text>
<text class="a w" x="326.65" y="209.77">0.3</text>
<text class="a k" x="353.00" y="209.77">0.72</text>
<text class="a w" x="379.35" y="209.77">-0.48</text>
<text class="a w" x="405.69" y="209.77">0.35</text>
<text class="a w" x="432.04" y="209.77">-0.54</text>
<text class="a w" x="458.39" y="209.77">-0.17</text>
<text class="a w" x="484.74" y="209.77">0.086</text>
<text class="a w" x="511.08" y="209.77">0.36</text>
<text class="a w" x="537.43" y="209.77">0.17</text>
<text class="a w" x="563.78" y="209.77">-0.41</text>
<text class="a w" x="590.13" y="209.77">-0.17</text>
<text class="a w" x="115.87" y="235.33">0.37</text>
<text class="a w" x="142.22" y="235.33">-0.1</text>
<text class="a w" x="168.57" y="235.33">0.1</text>
<text class="a w" x="194.92" y="235.33">-0.023</text>
<text class="a w" x="221.26" y="235.33">0.087</text>
<text class="a w" x="247.61" y="235.33">0.58</text>
<text class="a w" x="273.96" y="235.33">0.2</text>
<text class="a w" x="300.31" y="235.33">0.3</text>
<text class="a k" x="326.65" y="235.33">1</text>
<text class="a w" x="353.00" y="235.33">0.29</text>
<text class="a w" x="379.35" y="235.33">-0.26</text>
<text class="a w" x="405.69" y="235.33">0.2</text>
<text class="a w" x="432.04" y="235.33">-0.2</text>
<text class="a w" x="458.39" y="235.33">-0.19</text>
<text class="a w" x="484.74" y="235.33">0.025</text>
<text class="a w" x="511.08" y="235.33">0.2</text>
<text class="a w" x="537.43" y="235.33">0.066</text>
<text class="a w" x="563.78" y="235.33">-0.18</text>
<text class="a w" x="590.13" y="235.33">-0.18</text>
<text class="a w" x="115.87" y="260.88">0.39</text>
<text class="a w" x="142.22" y="260.88">0.2</text>
<text class="a w" x="168.57" y="260.88">0.0077</text>
<text class="a w" x="194.92" y="260.88">-0.081</text>
<text class="a w" x="221.26" y="260.88">0.048</text>
<text class="a w" x="247.61" y="260.88">0.34</text>
<text class="a k" x="273.96" y="260.88">0.63</text>
<text class="a k" x="300.31" y="260.88">0.72</text>
<text class="a w" x="326.65" y="260.88">0.29</text>
<text class="a k" x="353.00" y="260.88">1</text>
<text class="a w" x="379.35" y="260.88">-0.12</text>
<text class="a w" x="405.69" y="260.88">0.23</text>
<text class="a w" x="432.04" y="260.88">-0.063</text>
<text class="a w" x="458.39" y="260.88">-0.087</text>
<text class="a w" x="484.74" y="260.88">0.067</text>
<text class="a k" x="511.08" y="260.88">0.64</text>
<text class="a w" x="537.43" y="260.88">0.3</text>
<text class="a w" x="563.78" y="260.88">-0.5</text>
<text class="a w" x="590.13" y="260.88">-0.21</text>
<text class="a w" x="115.87" y="286.43">-0.26</text>
<text class="a w" x="142.22" y="286.43">0.39</text>
<text class="a k" x="168.57" y="286.43">0.69</text>
<text class="a w" x="194.92" y="286.43">0.25</text>
<text class="a w" x="221.26" y="286.43">0.14</text>
<text class="a w" x="247.61" y="286.43">0.16</text>
<text class="a w" x="273.96" y="286.43">-0.4</text>
<text class="a w" x="300.31" y="286.43">-0.48</text>
<text class="a w" x="326.65" y="286.43">-0.26</text>
<text class="a w" x="353.00" y="286.43">-0.12</text>
<text class="a k" x="379.35" y="286.43">1</text>
<text class="a w" x="405.69" y="286.43">-0.39</text>
<text class="a k" x="432.04" y="286.43">0.82</text>
<text class="a w" x="458.39" y="286.43">-0.1</text>
<text class="a w" x="484.74" y="286.43">-0.013</text>
<text class="a w" x="511.08" y="286.43">0.26</text>
<text class="a w" x="537.43" y="286.43">0.077</text>
<text class="a w" x="563.78" y="286.43">0.0013</text>
<text class="a w" x="590.13" y="286.43">0.23</text>
<text class="a w" x="115.87" y="311.98">0.036</text>
<text class="a w" x="142.22" y="311.98">-0.12</text>
<text class="a w" x="168.57" y="311.98">-0.24</text>
<text class="a w" x="194.92" y="311.98">-0.26</text>
<text class="a w" x="221.26" y="311.98">-0.17</text>
<text class="a w" x="247.61" y="311.98">0.13</text>
<text class="a w" x="273.96" y="311.98">0.45</text>
<text class="a w" x="300.31" y="311.98">0.35</text>
<text class="a w" x="326.65" y="311.98">0.2</text>
<text class="a w" x="353.00" y="311.98">0.23</text>
<text class="a w" x="379.35" y="311.98">-0.39</text>
<text class="a k" x="405.69" y="311.98">1</text>
<text class="a w" x="432.04" y="311.98">-0.33</text>
<text class="a w" x="458.39" y="311.98">0.25</text>
<text class="a w" x="484.74" y="311.98">0.026</text>
<text class="a w" x="511.08" y="311.98">0.024</text>
<text class="a w" x="537.43" y="311.98">0.029</text>
<text class="a w" x="563.78" y="311.98">-0.11</text>
<text class="a w" x="590.13" y="311.98">-0.08</text>
<text class="a w" x="115.87" y="337.54">-0.27</text>
<text class="a w" x="142.22" y="337.54">0.37</text>
<text class="a k" x="168.57" y="337.54">0.74</text>
<text class="a w" x="194.92" y="337.54">0.2</text>
<text class="a w" x="221.26" y="337.54">0.06</text>
<text class="a w" x="247.61" y="337.54">0.1</text>
<text class="a w" x="273.96" y="337.54">-0.41</text>
<text class="a w" x="300.31" y="337.54">-0.54</text>
<text class="a w" x="326.65" y="337.54">-0.2</text>
<text class="a w" x="353.00" y="337.54">-0.063</text>
<text class="a k" x="379.35" y="337.54">0.82</text>
<text class="a w" x="405.69" y="337.54">-0.33</text>
<text class="a k" x="432.04" y="337.54">1</text>
<text class="a w" x="458.39" y="337.54">-0.086</text>
<text class="a w" x="484.74" y="337.54">-0.011</text>
<text class="a w" x="511.08" y="337.54">0.32</text>
<text class="a w" x="537.43" y="337.54">0.065</text>
<text class="a w" x="563.78" y="337.54">-0.019</text>
<text class="a w" x="590.13" y="337.54">0.23</text>
<text class="a w" x="115.87" y="363.09">0.13</text>
<text class="a w" x="142.22" y="363.09">-0.16</text>
<text class="a w" x="168.57" y="363.09">0.19</text>
<text class="a w" x="194.92" y="363.09">0.28</text>
<text class="a w" x="221.26" y="363.09">-0.024</text>
<text class="a w" x="247.61" y="363.09">-0.1</text>
<text class="a w" x="273.96" y="363.09">-0.13</text>
<text class="a w" x="300.31" y="363.09">-0.17</text>
<text class="a w" x="326.65" y="363.09">-0.19</text>
<text class="a w" x="353.00" y="363.09">-0.087</text>
<text class="a w" x="379.35" y="363.09">-0.1</text>
<text class="a w" x="405.69" y="363.09">0.25</text>
<text class="a w" x="432.04" y="363.09">-0.086</text>
<text class="a k" x="458.39" y="363.09">1</text>
<text class="a w" x="484.74" y="363.09">-0.044</text>
<text class="a w" x="511.08" y="363.09">-0.041</text>
<text class="a w" x="537.43" y="363.09">0.051</text>
<text class="a w" x="563.78" y="363.09">-0.0084</text>
<text class="a w" x="590.13" y="363.09">-0.076</text>
<text class="a w" x="115.87" y="388.64">-0.026</text>
<text class="a w" x="142.22" y="388.64">0.037</text>
<text class="a w" x="168.57" y="388.64">-0.023</text>
<text class="a w" x="194.92" y="388.64">-0.03</text>
<text class="a w" x="221.26" y="388.64">-0.0039</text>
<text class="a w" x="247.61" y="388.64">0.035</text>
<text class="a w" x="273.96" y="388.64">0.092</text>
<text class="a w" x="300.31" y="388.64">0.086</text>
<text class="a w" x="326.65" y="388.64">0.025</text>
<text class="a w" x="353.00" y="388.64">0.067</text>
<text class="a w" x="379.35" y="388.64">-0.013</text>
<text class="a w" x="405.69" y="388.64">0.026</text>
<text class="a w" x="432.04" y="388.64">-0.011</text>
<text class="a w" x="458.39" y="388.64">-0.044</text>
<text class="a k" x="484.74" y="388.64">1</text>
<text class="a w" x="511.08" y="388.64">-0.43</text>
<text class="a w" x="537.43" y="388.64">-0.33</text>
<text class="a w" x="563.78" y="388.64">0.41</text>
<text class="a w" x="590.13" y="388.64">0.57</text>
<text class="a w" x="115.87" y="414.19">0.2</text>
<text class="a w" x="142.22" y="414.19">0.27</text>
<text class="a w" x="168.57" y="414.19">0.4</text>
<text class="a w" x="194.92" y="414.19">-0.042</text>
<text class="a w" x="221.26" y="414.19">0.021</text>
<text class="a w" x="247.61" y="414.19">0.47</text>
<text class="a w" x="273.96" y="414.19">0.25</text>
<text class="a w" x="300.31" y="414.19">0.36</text>
<text class="a w" x="326.65" y="414.19">0.2</text>
<text class="a k" x="353.00" y="414.19">0.64</text>
<text class="a w" x="379.35" y="414.19">0.26</text>
<text class="a w" x="405.69" y="414.19">0.024</text>
<text class="a w" x="432.04" y="414.19">0.32</text>
<text class="a w" x="458.39" y="414.19">-0.041</text>
<text class="a w" x="484.74" y="414.19">-0.43</text>
<text class="a k" x="511.08" y="414.19">1</text>
<text class="a w" x="537.43" y="414.19">0.48</text>
<text class="a w" x="563.78" y="414.19">-0.71</text>
<text class="a w" x="590.13" y="414.19">-0.37</text>
<text class="a w" x="115.87" y="439.75">0.12</text>
<text class="a w" x="142.22" y="439.75">0.066</text>
<text class="a w" x="168.57" y="439.75">0.12</text>
<text class="a w" x="194.92" y="439.75">0.014</text>
<text class="a w" x="221.26" y="439.75">0.049</text>
<text class="a w" x="247.61" y="439.75">0.14</text>
<text class="a w" x="273.96" y="439.75">0.12</text>
<text class="a w" x="300.31" y="439.75">0.17</text>
<text class="a w" x="326.65" y="439.75">0.066</text>
<text class="a w" x="353.00" y="439.75">0.3</text>
<text class="a w" x="379.35" y="439.75">0.077</text>
<text class="a w" x="405.69" y="439.75">0.029</text>
<text class="a w" x="432.04" y="439.75">0.065</text>
<text class="a w" x="458.39" y="439.75">0.051</text>
<text class="a w" x="484.74" y="439.75">-0.33</text>
<text class="a w" x="511.08" y="439.75">0.48</text>
<text class="a k" x="537.43" y="439.75">1</text>
<text class="a w" x="563.78" y="439.75">-0.46</text>
<text class="a w" x="590.13" y="439.75">-0.44</text>
<text class="a w" x="115.87" y="465.30">-0.15</text>
<text class="a w" x="142.22" y="465.30">-0.12</text>
<text class="a w" x="168.57" y="465.30">-0.12</text>
<text class="a w" x="194.92" y="465.30">0.13</text>
<text class="a w" x="221.26" y="465.30">-0.043</text>
<text class="a w" x="247.61" y="465.30">-0.29</text>
<text class="a w" x="273.96" y="465.30">-0.3</text>
<text class="a w" x="300.31" y="465.30">-0.41</text>
<text class="a w" x="326.65" y="465.30">-0.18</text>
<text class="a w" x="353.00" y="465.30">-0.5</text>
<text class="a w" x="379.35" y="465.30">0.0013</text>
<text class="a w" x="405.69" y="465.30">-0.11</text>
<text class="a w" x="432.04" y="465.30">-0.019</text>
<text class="a w" x="458.39" y="465.30">-0.0084</text>
<text class="a w" x="484.74" y="465.30">0.41</text>
<text class="a w" x="511.08" y="465.30">-0.71</text>
<text class="a w" x="537.43" y="465.30">-0.46</text>
<text class="a k" x="563.78" y="465.30">1</text>
<text class="a w" x="590.13" y="465.30">0.6</text>
<text class="a w" x="115.87" y="490.85">-0.28</text>
<text class="a w" x="142.22" y="490.85">0.16</text>
<text class="a w" x="168.57" y="490.85">0.1</text>
<text class="a w" x="194.92" y="490.85">0.037</text>
<text class="a w" x="221.26" y="490.85">-0.13</text>
<text class="a w" x="247.61" y="490.85">-0.019</text>
<text class="a w" x="273.96" y="490.85">-0.054</text>
<text class="a w" x="300.31" y="490.85">-0.17</text>
<text class="a w" x="326.65" y="490.85">-0.18</text>
<text class="a w" x="353.00" y="490.85">-0.21</text>
<text class="a w" x="379.35" y="490.85">0.23</text>
<text class="a w" x="405.69" y="490.85">-0.08</text>
<text class="a w" x="432.04" y="490.85">0.23</text>
<text class="a w" x="458.39" y="490.85">-0.076</text>
<text class="a w" x="484.74" y="490.85">0.57</text>
<text class="a w" x="511.08" y="490.85">-0.37</text>
<text class="a w" x="537.43" y="490.85">-0.44</text>
<text class="a w" x="563.78" y="490.85">0.6</text>
<text class="a k" x="590.13" y="490.85">1</text>
<line class="t" x1="100.10" x2="102.70" y1="28.78" y2="28.78"/>
<text class="yl" x="97.40" y="31.40">C</text>
<line class="t" x1="100.10" x2="102.70" y1="54.33" y2="54.33"/>
<text class="yl" x="97.40" y="56.96">Si</text>
<line class="t" x1="100.10" x2="102.70" y1="79.88" y2="79.88"/>
<text class="yl" x="97.40" y="82.51">Mn</text>
<line class="t" x1="100.10" x2="102.70" y1="105.43" y2="105.43"/>
<text class="yl" x="97.40" y="108.06">P</text>
<line class="t" x1="100.10" x2="102.70" y1="130.99" y2="130.99"/>
<text class="yl" x="97.40" y="133.61">S</text>
<line class="t" x1="100.10" x2="102.70" y1="156.54" y2="156.54"/>
<text class="yl" x="97.40" y="159.17">Ni</text>
<line class="t" x1="100.10" x2="102.70" y1="182.09" y2="182.09"/>
<text class="yl" x="97.40" y="184.72">Cr</text>
<line class="t" x1="100.10" x2="102.70" y1="207.64" y2="207.64"/>
<text class="yl" x="97.40" y="210.27">Mo</text>
<line class="t" x1="100.10" x2="102.70" y1="233.20" y2="233.20"/>
<text class="yl" x="97.40" y="235.83">Cu</text>
<line class="t" x1="100.10" x2="102.70" y1="258.75" y2="258.75"/>
<text class="yl" x="97.40" y="261.38">V</text>
<line class="t" x1="100.10" x2="102.70" y1="284.30" y2="284.30"/>
<text class="yl" x="97.40" y="286.93">Al</text>
<line class="t" x1="100.10" x2="102.70" y1="309.86" y2="309.86"/>
<text class="yl" x="97.40" y="312.48">N</text>
<line class="t" x1="100.10" x2="102.70" y1="335.41" y2="335.41"/>
<text class="yl" x="97.40" y="338.04">Ceq</text>
<line class="t" x1="100.10" x2="102.70" y1="360.96" y2="360.96"/>
<text class="yl" x="97.40" y="363.59">Nb + Ta</text>
<line class="t" x1="100.10" x2="102.70" y1="386.51" y2="386.51"/>
<text class="yl" x="97.40" y="389.14">Temperature (°C)</text>
<line class="t" x1="100.10" x2="102.70" y1="412.07" y2="412.07"/>
<text class="yl" x="97.40" y="414.69">0.2% Proof Stress (MPa)</text>
<line class="t" x1="100.10" x2="102.70" y1="437.62" y2="437.62"/>
<text class="yl" x="97.40" y="440.25">Tensile Strength (MPa)</text>
<line class="t" x1="100.10" x2="102.70" y1="463.17" y2="463.17"/>
<text class="yl" x="97.40" y="465.80">Elongation (%)</text>
<line class="t" x1="100.10" x2="102.70" y1="488.72" y2="488.72"/>
<text class="yl" x="97.40" y="491.35">Reduction in Area (%)</text>
<line class="t" x1="115.87" x2="115.87" y1="501.50" y2="504.10"/>
<text class="xl" transform="translate(118.00,508.00) rotate(-90)">C</text>
<line class="t" x1="142.22" x2="142.22" y1="501.50" y2="504.10"/>
<text class="xl" transform="translate(144.35,508.00) rotate(-90)">Si</text>
<line class="t" x1="168.57" x2="168.57" y1="501.50" y2="504.10"/>
<text class="xl" transform="translate(170.70,508.00) rotate(-90)">Mn</text>
<line class="t" x1="194.92" x2="194.92" y1="501.50" y2="504.10"/>
<text class="xl" transform="translate(197.04,508.00) rotate(-90)">P</text>
<line class="t" x1="221.26" x2="221.26" y1="501.50" y2="504.10"/>
<text class="xl" transform="translate(223.39,508.00) rotate(-90)">S</text>
<line class="t" x1="247.61" x2="247.61" y1="501.50" y2="504.10"/>
<text class="xl" transform="translate(249.74,508.00) rotate(-90)">Ni</text>
<line class="t" x1="273.96" x2="273.96" y1="501.50" y2="504.10"/>
<text class="xl" transform="translate(276.09,508.00) rotate(-90)">Cr</text>
<line class="t" x1="300.31" x2="300.31" y1="501.50" y2="504.10"/>
<text class="xl" transform="translate(302.43,508.00) rotate(-90)">Mo</text>
<line class="t" x1="326.65" x2="326.65" y1="501.50" y2="504.10"/>
<text class="xl" transform="translate(328.78,508.00) rotate(-90)">Cu</text>
<line class="t" x1="353.00" x2="353.00" y1="501.50" y2="504.10"/>
<text class="xl" transform="translate(355.13,508.00) rotate(-90)">V</text>
<line class="t" x1="379.35" x2="379.35" y1="501.50" y2="504.10"/>
<text class="xl" transform="translate(381.48,508.00) rotate(-90)">Al</text>
<line class="t" x1="405.69" x2="405.69" y1="501.50" y2="504.10"/>
<text class="xl" transform="translate(407.82,508.00) rotate(-90)">N</text>
<line class="t" x1="432.04" x2="432.04" y1="501.50" y2="504.10"/>
<text class="xl" transform="translate(434.17,508.00) rotate(-90)">Ceq</text>
<line class="t" x1="458.39" x2="458.39" y1="501.50" y2="504.10"/>
<text class="xl" transform="translate(460.52,508.00) rotate(-90)">Nb + Ta</text>
<line class="t" x1="484.74" x2="484.74" y1="501.50" y2="504.10"/>
<text class="xl" transform="translate(486.86,508.00) rotate(-90)">Temperature (°C)</text>
<line class="t" x1="511.08" x2="511.08" y1="501.50" y2="504.10"/>
<text class="xl" transform="translate(513.21,508.00) rotate(-90)">0.2% Proof Stress (MPa)</text>
<line class="t" x1="537.43" x2="537.43" y1="501.50" y2="504.10"/>
<text class="xl" transform="translate(539.56,508.00) rotate(-90)">Tensile Strength (MPa)</text>
<line class="t" x1="563.78" x2="563.78" y1="501.50" y2="504.10"/>
<text class="xl" transform="translate(565.91,508.00) rotate(-90)">Elongation (%)</text>
<line class="t" x1="590.13" x2="590.13" y1="501.50" y2="504.10"/>
<text class="xl" transform="translate(592.25,508.00) rotate(-90)">Reduction in Area (%)</text>
<defs><linearGradient id="cb" x1="0" y1="1" x2="0" y2="0">
<stop offset="0.0000" stop-color="#030623"/>
<stop offset="0.0156" stop-color="#070726"/>
<stop offset="0.0312" stop-color="#0c0829"/>
<stop offset="0.0469" stop-color="#11082c"/>
<stop offset="0.0625" stop-color="#15092f"/>
<stop offset="0.0781" stop-color="#1b0a32"/>
<stop offset="0.0938" stop-color="#200b35"/>
<stop offset="0.1094" stop-color="#250c38"/>
<stop offset="0.1250" stop-color="#2a0d3a"/>
<stop offset="0.1406" stop-color="#300d3d"/>
<stop offset="0.1562" stop-color="#350e3f"/>
<stop offset="0.1719" stop-color="#3b0e41"/>
<stop offset="0.1875" stop-color="#410e43"/>
<stop offset="0.2031" stop-color="#461046"/>
<stop offset="0.2188" stop-color="#4c1149"/>
<stop offset="0.2344" stop-color="#52124c"/>
<stop offset="0.2500" stop-color="#58134e"/>
<stop offset="0.2656" stop-color="#5e1350"/>
<stop offset="0.2812" stop-color="#651452"/>
<stop offset="0.2969" stop-color="#6b1453"/>
<stop offset="0.3125" stop-color="#731455"/>
<stop offset="0.3281" stop-color="#7b1457"/>
<stop offset="0.3438" stop-color="#831459"/>
<stop offset="0.3594" stop-color="#8b135a"/>
<stop offset="0.3750" stop-color="#93135b"/>
<stop offset="0.3906" stop-color="#9b125c"/>
<stop offset="0.4062" stop-color="#a4115c"/>
<stop offset="0.4219" stop-color="#ab115c"/>
<stop offset="0.4375" stop-color="#b3125c"/>
<stop offset="0.4531" stop-color="#ba135c"/>
<stop offset="0.4688" stop-color="#c1145a"/>
<stop offset="0.4844" stop-color="#c81657"/>
<stop offset="0.5000" stop-color="#cf1955"/>
<stop offset="0.5156" stop-color="#d61d52"/>
<stop offset="0.5312" stop-color="#dc234f"/>
<stop offset="0.5469" stop-color="#df294c"/>
<stop offset="0.5625" stop-color="#e22f49"/>
<stop offset="0.5781" stop-color="#e53647"/>
<stop offset="0.5938" stop-color="#e73d45"/>
<stop offset="0.6094" stop-color="#e84543"/>
<stop offset="0.6250" stop-color="#e94d43"/>
<stop offset="0.6406" stop-color="#e95644"/>
<stop offset="0.6562" stop-color="#ea5d46"/>
<stop offset="0.6719" stop-color="#ea6449"/>
<stop offset="0.6875" stop-color="#eb6a4d"/>
<stop offset="0.7031" stop-color="#eb7051"/>
<stop offset="0.7188" stop-color="#ec7656"/>
<stop offset="0.7344" stop-color="#ec7c5b"/>
<stop offset="0.7500" stop-color="#ec8260"/>
<stop offset="0.7656" stop-color="#ec8866"/>
<stop offset="0.7812" stop-color="#ed8e6b"/>
<stop offset="0.7969" stop-color="#ed9470"/>
<stop offset="0.8125" stop-color="#ee9a76"/>
<stop offset="0.8281" stop-color="#eea07c"/>
<stop offset="0.8438" stop-color="#efa582"/>
<stop offset="0.8594" stop-color="#f0ab89"/>
<stop offset="0.8750" stop-color="#f0b190"/>
<stop offset="0.8906" stop-color="#f1b798"/>
<stop offset="0.9062" stop-color="#f1bea1"/>
<stop offset="0.9219" stop-color="#f2c4ab"/>
<stop offset="0.9375" stop-color="#f2cbb4"/>
<stop offset="0.9531" stop-color="#f3d2bd"/>
<stop offset="0.9688" stop-color="#f4d9c7"/>
<stop offset="0.9844" stop-color="#f5dfd0"/>
<stop offset="1.0000" stop-color="#f5e4d7"/>
</linearGradient></defs>
<rect x="633.90" y="16.00" width="25.10" height="485.40" fill="url(#cb)"/>
<line class="t" x1="659.00" x2="661.60" y1="16.00" y2="16.00"/>
<text class="cl" x="664.20" y="18.63">1.0</text>
<line class="t" x1="659.00" x2="661.60" y1="72.77" y2="72.77"/>
<text class="cl" x="664.20" y="75.40">0.8</text>
<line class="t" x1="659.00" x2="661.60" y1="129.54" y2="129.54"/>
<text class="cl" x="664.20" y="132.17">0.6</text>
<line class="t" x1="659.00" x2="661.60" y1="186.32" y2="186.32"/>
<text class="cl" x="664.20" y="188.94">0.4</text>
<line class="t" x1="659.00" x2="661.60" y1="243.09" y2="243.09"/>
<text class="cl" x="664.20" y="245.72">0.2</text>
<line class="t" x1="659.00" x2="661.60" y1="299.86" y2="299.86"/>
<text class="cl" x="664.20" y="302.49">0.0</text>
<line class="t" x1="659.00" x2="661.60" y1="356.63" y2="356.63"/>
<text class="cl" x="664.20" y="359.26">−0.2</text>
<line class="t" x1="659.00" x2="661.60" y1="413.40" y2="413.40"/>
<text class="cl" x="664.20" y="416.03">−0.4</text>
<line class="t" x1="659.00" x2="661.60" y1="470.18" y2="470.18"/>
<text class="cl" x="664.20" y="472.80">−0.6</text>
</svg></body></html>
